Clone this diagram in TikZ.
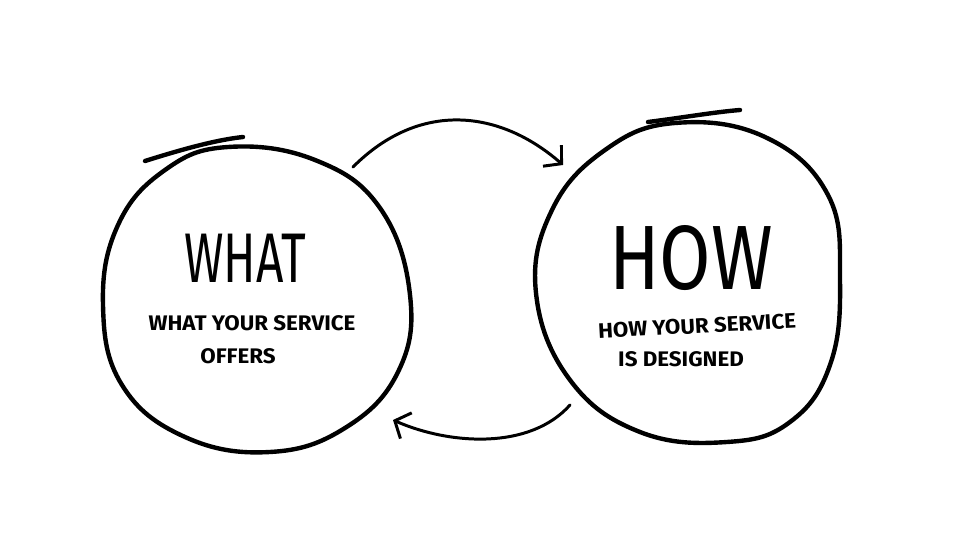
\documentclass[tikz,border=0pt]{standalone}
\usepackage{fontspec}
\setmainfont{Fira Sans}
\usetikzlibrary{arrows.meta}

\tikzset{
  ring/.style={line width=2.5pt, line cap=round, line join=round},
  flow/.style={line width=1.7pt, line cap=round, ->},
  big/.style={font=\fontsize{40}{40}\selectfont, xscale=0.68},
  small/.style={font=\fontsize{12}{12}\selectfont\bfseries, xscale=1.06}
}

\begin{document}
\begin{tikzpicture}[x=0.02cm, y=-0.02cm, >={Straight Barb[length=7pt,width=16pt]}]
		\useasboundingbox (0,0) rectangle (960,540);
		% left circle
		\draw[ring] plot[smooth cycle, tension=0.7] coordinates {(228,147) (315,160) (380,208) (410,295) (398,372) (345,428) (270,452) (185,437) (122,385) (103,305) (118,225) (165,170)};
		\draw[ring] (145,161) .. controls (180,150) and (215,140) .. (243,137);
		% right circle
		\draw[ring] plot[smooth cycle, tension=0.7] coordinates {(675,123) (765,137) (828,195) (840,280) (830,365) (790,422) (727,442) (640,432) (570,380) (536,293) (552,210) (605,150)};
		\draw[ring] (648,122) .. controls (680,118) and (715,112) .. (740,110);
		% labels
		\node[big] (what) at (245,258) {WHAT};
		\node[small] (what1) at (252,323) {WHAT YOUR SERVICE};
		\node[small] (what2) at (238,356) {OFFERS};
		\node[big, font=\fontsize{52}{52}\selectfont, xscale=1.2] (how) at (691,258) {HOW};
		\node[small, rotate=3] (how1) at (697,326) {HOW YOUR SERVICE};
		\node[small] (how2) at (681,359) {IS DESIGNED};
		% arrows
		\coordinate (a1) at (353,167);
		\coordinate (b1) at (563,165);
		\coordinate (a2) at (570,405);
		\coordinate (b2) at (393,420);
		\draw[flow] (a1) .. controls (420,100) and (500,110) .. (b1);
		\draw[flow] (a2) .. controls (530,450) and (450,445) .. (b2);
\end{tikzpicture}
\end{document}
